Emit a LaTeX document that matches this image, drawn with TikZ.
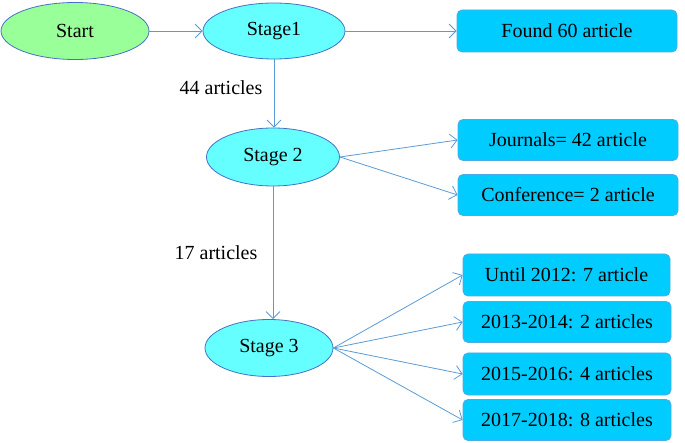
\documentclass[tikz,border=0pt]{standalone}
\usepackage{fontspec}
\setmainfont{Liberation Serif}
\usetikzlibrary{shapes.geometric,arrows.meta}
\definecolor{edgeblue}{RGB}{91,155,213}
\definecolor{ellborder}{RGB}{68,114,196}
\definecolor{cyanfill}{RGB}{102,255,255}
\definecolor{greenfill}{RGB}{153,255,153}
\definecolor{boxfill}{RGB}{0,204,255}
\definecolor{boxborder}{RGB}{80,170,230}
\tikzset{
  x=1pt,y=-1pt,
  ell/.style={ellipse,draw=ellborder,line width=0.8pt,fill=cyanfill,inner sep=0pt,font=\fontsize{20}{24}\selectfont},
  rbox/.style={rectangle,rounded corners=5pt,draw=boxborder,line width=0.8pt,fill=boxfill,inner sep=0pt,font=\fontsize{20}{24}\selectfont},
  conn/.style={draw=edgeblue,line width=0.8pt,-{Straight Barb[length=7pt,width=14pt,line width=0.8pt]}},
  lbl/.style={font=\fontsize{20}{24}\selectfont}
}
\begin{document}
\begin{tikzpicture}
\useasboundingbox (0,0) rectangle (685,443);
\node[ell,fill=greenfill,minimum width=148pt,minimum height=57pt] (start) at (75,31) {Start};
\node[ell,minimum width=142pt,minimum height=56pt] (s1) at (274,31) {Stage1};
\node[ell,minimum width=133pt,minimum height=58pt] (s2) at (273,157) {Stage 2};
\node[ell,minimum width=128pt,minimum height=57pt] (s3) at (269,348) {Stage 3};
\node[rbox,minimum width=220pt,minimum height=42pt] (found) at (567,31) {Found 60 article};
\node[rbox,minimum width=220pt,minimum height=41pt] (jour) at (568,140) {Journals= 42 article};
\node[rbox,minimum width=220pt,minimum height=41pt] (conf) at (568,195) {Conference= 2 article};
\node[rbox,minimum width=207pt,minimum height=42pt] (y1) at (566.5,275) {Until 2012: 7 article};
\node[rbox,minimum width=208pt,minimum height=41pt] (y2) at (567,322) {2013-2014: 2 articles};
\node[rbox,minimum width=208pt,minimum height=42pt] (y3) at (567,374) {2015-2016: 4 articles};
\node[rbox,minimum width=208pt,minimum height=41pt] (y4) at (567,420) {2017-2018: 8 articles};
\node[lbl] (l44) at (221,88) {44 articles};
\node[lbl] (l17) at (216,253) {17 articles};
\draw[conn] (start.east) -- (s1.west);
\draw[conn] (s1.east) -- (found.west);
\draw[conn] (s1.south) -- (s1.south |- s2.north);
\draw[conn] (s2.south) -- (s2.south |- s3.north);
\draw[conn] (s2.east) -- (jour.west);
\draw[conn] (s2.east) -- (conf.west);
\draw[conn] (s3.east) -- (y1.west);
\draw[conn] (s3.east) -- (y2.west);
\draw[conn] (s3.east) -- (y3.west);
\draw[conn] (s3.east) -- (y4.west);
\end{tikzpicture}
\end{document}
